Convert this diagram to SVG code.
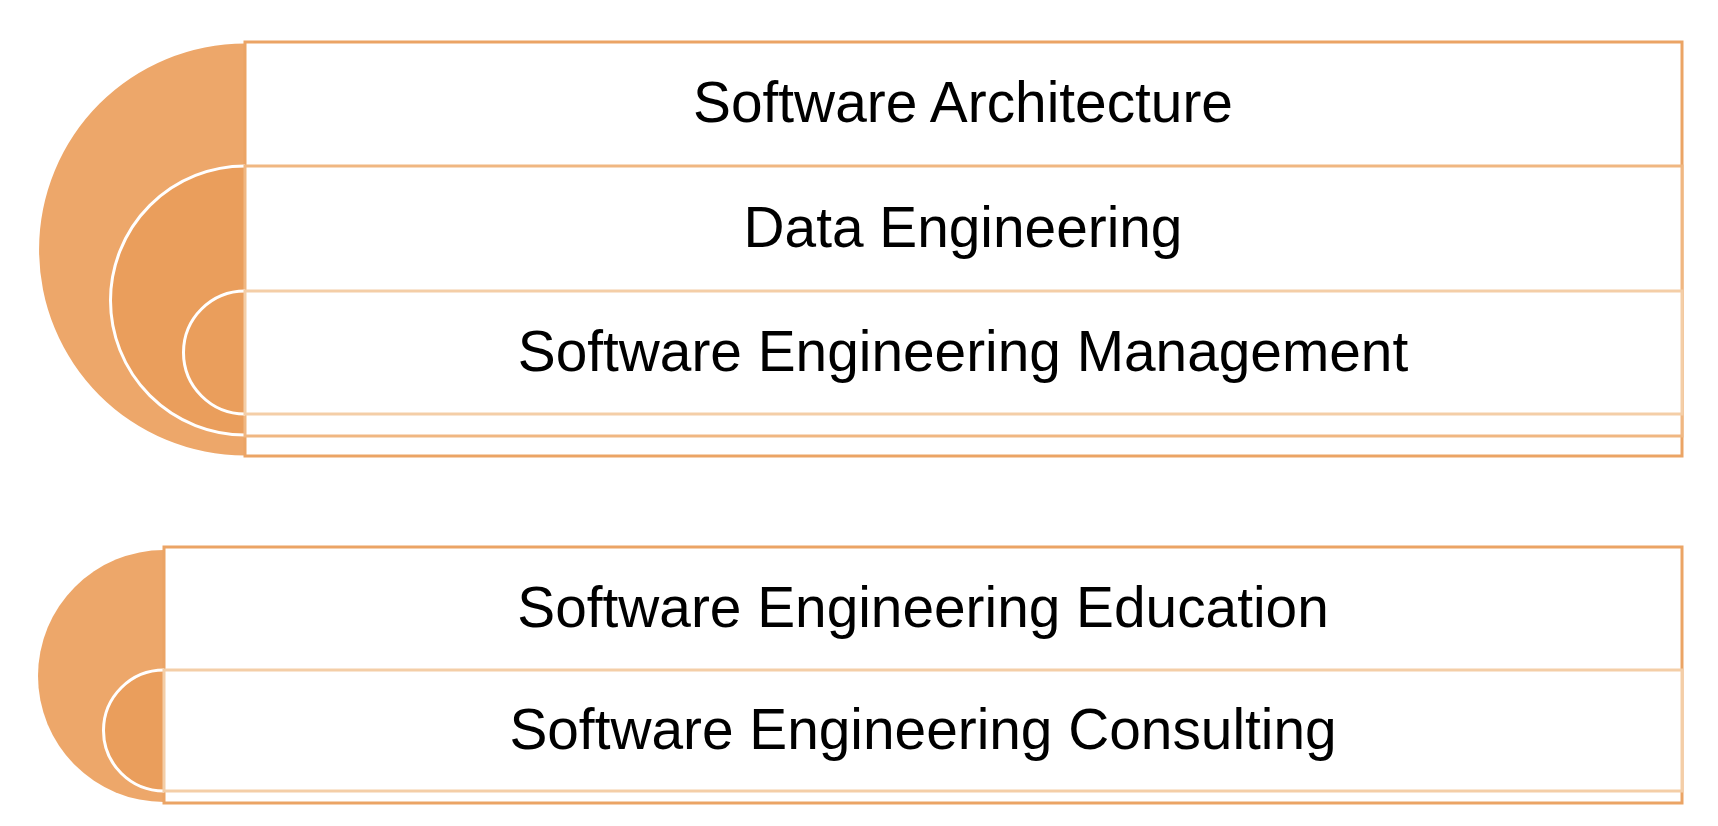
<svg xmlns="http://www.w3.org/2000/svg" width="1718" height="826" viewBox="0 0 1718 826">
<style>
.bg{fill:#ffffff}
.row{fill:#ffffff;stroke-width:3}
.s1{stroke:#EBA465}
.s2{stroke:#F0B782}
.s3{stroke:#F4CEA7}
.outer{fill:#EDA76A;stroke:none}
.inner{fill:#EA9E5C;stroke:#ffffff;stroke-width:3}
.lbl{font-family:"Liberation Sans",Arial,sans-serif;font-size:56.8px;fill:#000000;text-anchor:middle}
</style>
<rect class="bg" x="0" y="0" width="1718" height="826"/>
<g id="node-software-architecture">
<path class="outer" d="M245 43.5 A206 206 0 0 0 245 455.5 Z"/>
<rect class="row s1" x="245" y="42" width="1437" height="414"/>
<text class="lbl" x="963" y="122">Software Architecture</text>
</g>
<g id="node-data-engineering">
<path class="inner" d="M245 166 A134.5 134.5 0 0 0 245 435"/>
<rect class="row s2" x="245" y="166" width="1437" height="270"/>
<text class="lbl" x="963" y="247">Data Engineering</text>
</g>
<g id="node-software-engineering-management">
<path class="inner" d="M245 291 A61.5 61.5 0 0 0 245 414"/>
<rect class="row s3" x="245" y="291" width="1437" height="123"/>
<text class="lbl" x="963" y="371">Software Engineering Management</text>
</g>
<g id="node-software-engineering-education">
<path class="outer" d="M164 550 A126 126 0 0 0 164 802 Z"/>
<rect class="row s1" x="164" y="547" width="1518" height="256"/>
<text class="lbl" x="923" y="627">Software Engineering Education</text>
</g>
<g id="node-software-engineering-consulting">
<path class="inner" d="M164 670 A60.5 60.5 0 0 0 164 791"/>
<rect class="row s3" x="164" y="670" width="1518" height="121"/>
<text class="lbl" x="923" y="749">Software Engineering Consulting</text>
</g>
<g id="connectors"></g>
</svg>
